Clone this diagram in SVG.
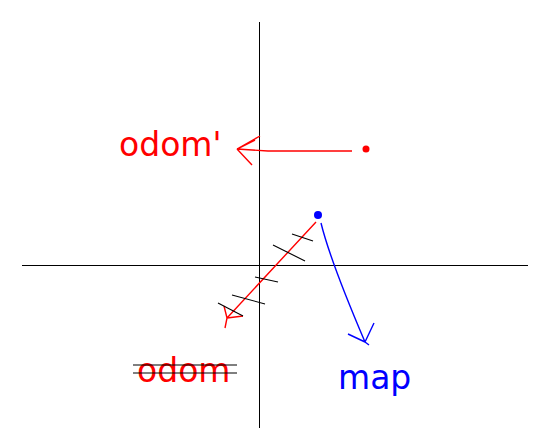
<svg xmlns="http://www.w3.org/2000/svg" width="536" height="442" viewBox="0 0 536 442">
<style>
.ax{stroke:#000;stroke-width:1;fill:none;shape-rendering:crispEdges}
.red{stroke:#f00;stroke-width:1.4;fill:none}
.blue{stroke:#00f;stroke-width:1.4;fill:none}
.hatch{stroke:#000;stroke-width:1.1;fill:none}
.lbl{font-family:"DejaVu Sans",sans-serif;font-size:33px}
</style>
<rect width="536" height="442" fill="#fff"/>
<g id="axes">
<line class="ax" x1="259.5" y1="22" x2="259.5" y2="428"/>
<line class="ax" x1="22" y1="265.5" x2="528" y2="265.5"/>
</g>
<g id="connectors">
<path class="red" d="M352,151 L268,151 L237,149 M237,149 L260,136 M237,149 L252,165 M239,148 L255,140"/>
<path class="red" d="M316,222 L227,318 M227,318 L224,306 M227,318 L243,316 M227,318 L225,328"/>
<path class="blue" d="M321,223 Q330,260 365,342 M365,342 L348,334 M365,342 L374,323 M365,342 L369,345"/>
<g id="hatches">
<line class="hatch" x1="292" y1="234" x2="313" y2="241"/>
<line class="hatch" x1="273" y1="245" x2="305" y2="261"/>
<line class="hatch" x1="255" y1="277" x2="278" y2="282"/>
<line class="hatch" x1="232" y1="295" x2="265" y2="304"/>
<line class="hatch" x1="218" y1="303" x2="243" y2="316"/>
</g>
</g>
<g id="odom-prime">
<circle cx="366" cy="149" r="3.5" fill="#f00"/>
<text class="lbl" x="119" y="156" fill="#f00">odom'</text>
</g>
<g id="map">
<circle cx="318" cy="215" r="4" fill="#00f"/>
<text class="lbl" x="338" y="389" fill="#00f">map</text>
</g>
<g id="odom">
<text class="lbl" x="137" y="382" fill="#f00">odom</text>
<line class="hatch" x1="133" y1="365" x2="237" y2="365"/>
<line class="hatch" x1="133" y1="373" x2="237" y2="373"/>
</g>
</svg>
